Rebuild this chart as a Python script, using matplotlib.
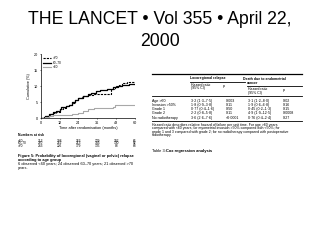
import matplotlib
matplotlib.use("Agg")
import matplotlib.pyplot as plt
from matplotlib.lines import Line2D

plt.rcParams['font.family'] = ['Liberation Sans', 'DejaVu Sans']

W, H = 320, 240

# title
title_lines = ["THE LANCET \u2022 Vol 355 \u2022 April 22,", "2000"]

# Kaplan-Meier style curves (months, cumulative %)
t_over70 = [0, 2, 4, 6, 8, 10, 12, 14, 16, 18, 20, 22, 24, 26, 28, 30, 33, 36, 45, 47, 50, 52, 55, 60]
v_over70 = [0, 0.4, 0.8, 1.3, 1.7, 2.1, 2.8, 3.3, 3.7, 4.2, 4.8, 5.6, 6.4, 6.9, 7.1, 7.2, 7.5, 7.5, 9.2, 10.0, 10.5, 11.0, 11.5, 11.5]
t_60to70 = [0, 2, 3, 5, 6, 8, 10, 12, 13, 16, 18, 20, 22, 24, 27, 30, 32, 35, 38, 42, 46, 49, 52, 56, 60]
v_60to70 = [0, 0.3, 0.8, 1.2, 1.5, 1.9, 2.4, 3.0, 3.6, 3.9, 4.3, 5.0, 5.8, 6.4, 7.0, 7.6, 8.0, 8.4, 8.9, 9.3, 9.8, 10.1, 10.4, 10.7, 10.7]
t_under60 = [0, 3, 5, 8, 20, 24, 27, 30, 34, 46, 47, 60]
v_under60 = [0, 0.3, 0.6, 0.9, 1.2, 1.6, 2.2, 2.8, 3.1, 3.6, 4.2, 4.2]

x_ticks = [0, 12, 24, 36, 48, 60]
y_ticks = [0, 5, 10, 15, 20]

risk_groups = ["<60", "60\u201370", ">70"]
risk_counts = [
    [313, 198, 163, 129, 102, 66],
    [270, 252, 213, 145, 130, 82],
    [243, 226, 179, 135, 88, 68],
]

fig_caption = [
    ("Figure 5: Probability of locoregional (vaginal or pelvic) relapse", "bold"),
    ("according to age group", "bold"),
    ("6 observed <60 years; 24 observed 60\u201370 years; 21 observed >70", "normal"),
    ("years.", "normal"),
]

# table 3
row_labels = ["Age >60", "Invasion >50%", "Grade 1", "Grade 2", "No radiotherapy"]
relapse_hr = ["3\u00b72 (1\u00b73\u20137\u00b75)", "1\u00b78 (0\u00b79\u20133\u00b78)", "0\u00b777 (0\u00b74\u20131\u00b76)",
              "2\u00b72 (0\u00b78\u20135\u00b78)", "3\u00b76 (2\u00b76\u20137\u00b76)"]
relapse_p = ["0\u00b7003", "0\u00b711", "0\u00b750", "0\u00b711", "<0\u00b70001"]
death_hr = ["3\u00b71 (1\u00b72\u20138\u00b70)", "1\u00b79 (0\u00b76\u20136\u00b78)", "0\u00b745 (0\u00b72\u20131\u00b73)",
            "4\u00b79 (1\u00b79\u201312\u00b75)", "0\u00b776 (0\u00b74\u20132\u00b74)"]
death_p = ["0\u00b702", "0\u00b716", "0\u00b715", "0\u00b70008", "0\u00b727"]
table_note = [
    "Hazard ratio describes relative hazard of failure per unit time. For age >60 years",
    "compared with <60 years; for myometrial invasion >50% compared with <50%; for",
    "grade 1 and 3 compared with grade 2; for no radiotherapy compared with postoperative",
    "radiotherapy.",
]


def fx(x):
    return x / W


def fy(y):
    return 1 - y / H


def ftext(x, y, s, size=2.2, **kw):
    fig.text(fx(x), fy(y), s, fontsize=size, va='center', **kw)


def hline(x0, x1, y, lw=0.6):
    fig.add_artist(Line2D([fx(x0), fx(x1)], [fy(y), fy(y)], color='black', lw=lw,
                          transform=fig.transFigure))


fig = plt.figure(figsize=(3.2, 2.4), dpi=100)

fig.text(0.5, fy(20), title_lines[0], ha='center', va='center', fontsize=12.7)
fig.text(0.5, fy(41), title_lines[1], ha='center', va='center', fontsize=12.7)

# KM plot
ax = fig.add_axes([fx(40.7), fy(118.3), fx(135 - 40.7), (118.3 - 54.3) / H])
ax.step(t_over70, v_over70, where='post', color='black', lw=0.8, ls=(0, (2, 1)), label='>70')
ax.step(t_60to70, v_60to70, where='post', color='black', lw=0.9, label='60\u201370')
ax.step(t_under60, v_under60, where='post', color='#a8a8a8', lw=0.8, label='<60')
ax.set_xlim(0, 60)
ax.set_ylim(0, 20)
ax.set_xticks(x_ticks)
ax.set_yticks(y_ticks)
ax.tick_params(labelsize=2.7, length=1, width=0.4, pad=0.8)
for s in ['top', 'right']:
    ax.spines[s].set_visible(False)
for s in ['left', 'bottom']:
    ax.spines[s].set_linewidth(0.5)
ax.set_ylabel('Cumulative (%)', fontsize=2.7, labelpad=2)
ax.set_xlabel('Time after randomisation (months)', fontsize=2.8, labelpad=1)
ax.legend(loc='upper left', fontsize=2.3, frameon=False, handlelength=2.5,
          borderaxespad=0.2, labelspacing=0.2)

# numbers at risk
ftext(18, 135, "Numbers at risk", size=2.4, weight='bold')
for i, (g, counts) in enumerate(zip(risk_groups, risk_counts)):
    y = 140.5 + i * 2.8
    ftext(18, y, g, size=2.3)
    for t, c in zip(x_ticks, counts):
        xp = 40.7 + t / 60 * (135 - 40.7)
        ftext(xp, y, str(c), size=2.3, ha='center')

for i, (line, wt) in enumerate(fig_caption):
    ftext(18, 156 + i * 4, line, size=2.8, weight=wt)

# table
hline(152, 302, 74, lw=0.9)
ftext(190, 78.5, "Locoregional relapse", size=2.5, weight='bold')
ftext(243, 78.5, "Death due to endometrial", size=2.5, weight='bold')
hline(190, 245, 81.5)
ftext(247, 83, "cancer", size=2.5, weight='bold')
hline(247, 302, 85.5)
ftext(191, 85, "Hazard ratio", size=2.5)
ftext(191, 88.5, "(95% CI)", size=2.5)
ftext(223, 86, "p", size=2.5)
ftext(248, 89, "Hazard ratio", size=2.5)
ftext(248, 92.5, "(95% CI)", size=2.5)
ftext(283, 90, "p", size=2.5)
hline(152, 302, 95.5)
for i in range(len(row_labels)):
    y = 100.7 + i * 4.25
    ftext(152, y, row_labels[i], size=2.6)
    ftext(191, y, relapse_hr[i], size=2.6)
    ftext(226, y, relapse_p[i], size=2.6)
    ftext(248, y, death_hr[i], size=2.6)
    ftext(283, y, death_p[i], size=2.6)
hline(152, 302, 121)
for i, line in enumerate(table_note):
    ftext(152, 125 + i * 3.4, line, size=2.5)
ftext(152, 151, "Table 3:", size=2.9)
ftext(166, 151, "Cox regression analysis", size=2.9, weight='bold')

fig.savefig("out.png", dpi=100)
